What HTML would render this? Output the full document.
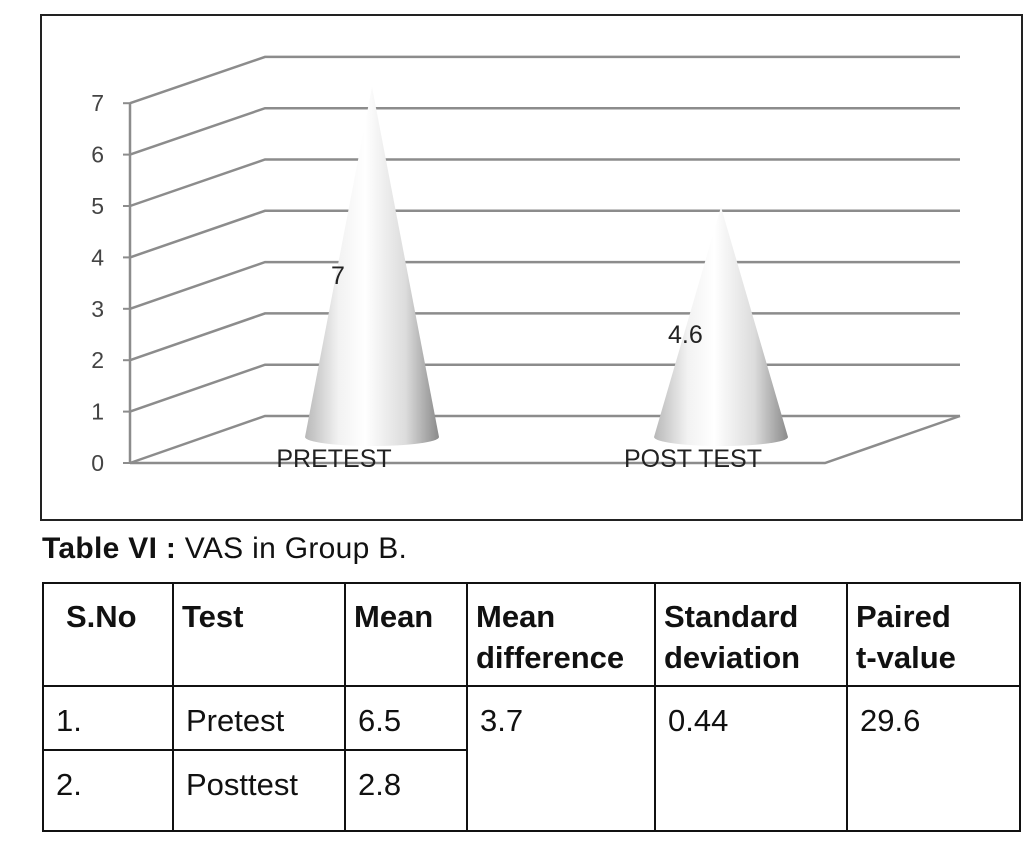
<!DOCTYPE html>
<html><head><meta charset="utf-8"><style>
body{margin:0;background:#fff;width:1026px;height:843px;position:relative;overflow:hidden;font-family:"Liberation Sans",sans-serif}
#chart{position:absolute;left:0;top:0}
.cap{position:absolute;left:42px;top:532px;font-size:30px;color:#111;letter-spacing:0.3px}
table{position:absolute;left:42px;top:582px;border-collapse:collapse;table-layout:fixed;width:977px;font-size:31px;color:#111}
td{border:2px solid #111;vertical-align:top;padding:16px 0 0 12px;overflow:hidden;white-space:nowrap}
th{border:2px solid #111;vertical-align:top;text-align:left;padding:12px 0 0 8px;font-weight:bold;line-height:41px;overflow:hidden;white-space:nowrap}
</style></head><body>
<svg id="chart" width="1026" height="525">
<defs>
<linearGradient id="cg" x1="0" x2="1" y1="0" y2="0">
<stop offset="0" stop-color="#b8b8b8"/><stop offset="0.25" stop-color="#f2f2f2"/><stop offset="0.45" stop-color="#fff"/><stop offset="0.75" stop-color="#dcdcdc"/><stop offset="1" stop-color="#8a8a8a"/></linearGradient>
</defs>
<rect x="41" y="15" width="981" height="505" fill="#fff" stroke="#222" stroke-width="2"/>
<g id="grid"></g><g id="cones"></g>
</svg>
<div class="cap"><b>Table VI :</b> VAS in Group B.</div>
<table>
<colgroup><col style="width:130px"><col style="width:172px"><col style="width:122px"><col style="width:188px"><col style="width:192px"><col style="width:173px"></colgroup>
<tr style="height:103px"><th style="padding-left:22px">S.No</th><th>Test</th><th>Mean</th><th>Mean<br>difference</th><th>Standard<br>deviation</th><th>Paired<br>t-value</th></tr>
<tr style="height:64px"><td>1.</td><td>Pretest</td><td>6.5</td><td rowspan="2">3.7</td><td rowspan="2">0.44</td><td rowspan="2">29.6</td></tr>
<tr style="height:81px"><td>2.</td><td>Posttest</td><td>2.8</td></tr>
</table>
<script>
const ticks=[0,1,2,3,4,5,6,7];
const categories=["PRETEST","POST TEST"];
const values=[7,4.6];
const NS="http://www.w3.org/2000/svg";
function mk(t,a,p){const e=document.createElementNS(NS,t);for(const k in a)e.setAttribute(k,a[k]);p.appendChild(e);return e;}
const fy=v=>463-51.4*v, by=v=>416-51.3*v, my=v=>437-50*v;
const g=document.getElementById('grid');
ticks.forEach(v=>{
 const l=mk('polyline',{points:`130,${fy(v)} 265,${by(v)} 960,${by(v)}`,fill:'none',stroke:'#8c8c8c','stroke-width':2.5},g);
 
 
 mk('line',{x1:123,x2:130,y1:fy(v),y2:fy(v),stroke:'#8c8c8c','stroke-width':2},g);
 const tx=mk('text',{x:104,y:fy(v)+8,'text-anchor':'end','font-size':23,fill:'#444'},g);tx.textContent=v;
 
 
});
mk('line',{x1:130,x2:130,y1:fy(0),y2:fy(7),stroke:'#8c8c8c','stroke-width':2.5},g);
mk('polyline',{points:`130,463 825,463 960,416`,fill:'none',stroke:'#8c8c8c','stroke-width':2.5},g);
const c=document.getElementById('cones');
const cx=[372,721];
categories.forEach((cat,i)=>{
 const x=cx[i],h=values[i],top=my(h),by0=437,w=67;
 const p=mk('path',{d:`M${x},${top} L${x+w},${by0} A${w},9 0 0 1 ${x-w},${by0} Z`,fill:'url(#cg)'},c);
 
 
 const lt=mk('text',{x:i?x-53:x-41,y:i?343:284,'font-size':25,fill:'#222'},c);lt.textContent=h;
 
 
 const ct=mk('text',{x:i?693:334,y:467,'text-anchor':'middle','font-size':25,fill:'#222'},c);ct.textContent=cat;
 
 
});
</script>
</body></html>
